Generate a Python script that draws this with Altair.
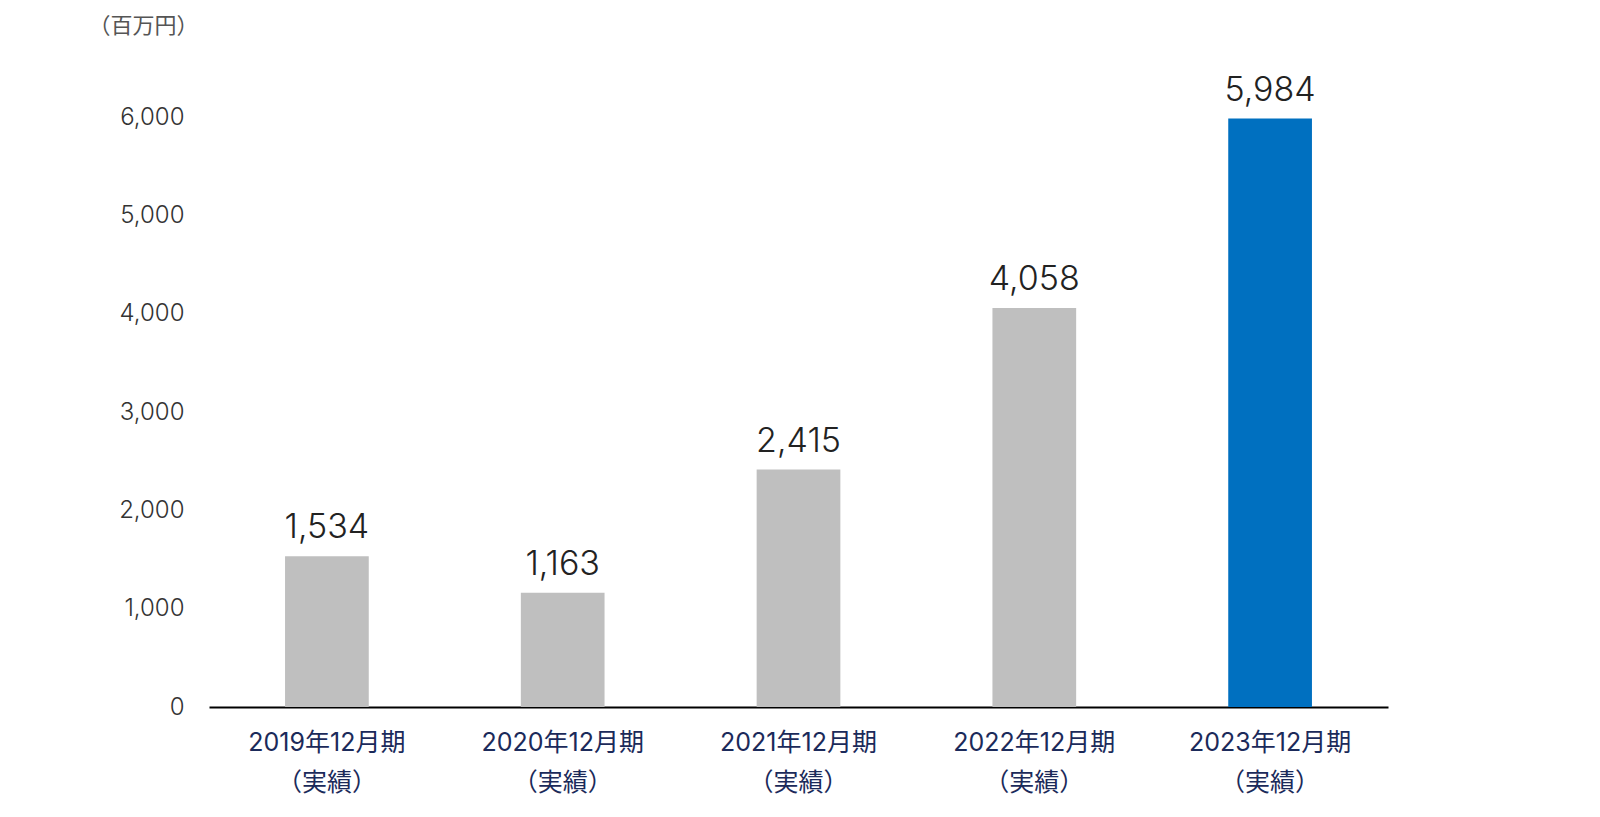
import altair as alt
import pandas as pd

categories = ["2019年12月期", "2020年12月期", "2021年12月期", "2022年12月期", "2023年12月期"]
values = [1534, 1163, 2415, 4058, 5984]
bar_colors = ["#bfbfbf", "#bfbfbf", "#bfbfbf", "#bfbfbf", "#0070c0"]
y_ticks = [0, 1000, 2000, 3000, 4000, 5000, 6000]

df = pd.DataFrame({"cat": categories, "value": values, "color": bar_colors})

FONT = "Inter, Noto Sans CJK JP"
CJK = "Noto Sans CJK JP"

x_enc = alt.X(
    "cat:N",
    sort=categories,
    scale=alt.Scale(paddingInner=0.645, paddingOuter=0.3225),
    axis=alt.Axis(
        title=None,
        labelAngle=0,
        labelExpr="[datum.label, '（実績）']",
        labelFontSize=25,
        labelColor="#1b2a5a",
        labelFont=FONT,
        labelPadding=23,
        labelLineHeight=40,
        ticks=False,
        domainColor="#000000",
        domainWidth=2,
    ),
)

y_enc = alt.Y(
    "value:Q",
    scale=alt.Scale(domain=[0, 6000], nice=False),
    axis=alt.Axis(
        values=y_ticks,
        format=",d",
        title="（百万円）",
        titleAngle=0,
        titleX=-66,
        titleY=-92,
        titleAlign="center",
        titleBaseline="middle",
        titleFontSize=22,
        titleFontWeight="normal",
        titleColor="#555555",
        titleFont=CJK,
        labelFontSize=24,
        labelFontWeight=300,
        labelColor="#333333",
        labelFont=FONT,
        labelPadding=25,
        ticks=False,
        domain=False,
        grid=False,
    ),
)

bars = alt.Chart(df).mark_bar().encode(
    x=x_enc,
    y=y_enc,
    color=alt.Color("color:N", scale=None),
)

labels = alt.Chart(df).mark_text(
    baseline="bottom", dy=-11, fontSize=34, fontWeight=300, font=FONT, color="#222222"
).encode(
    x=alt.X("cat:N", sort=categories),
    y=alt.Y("value:Q"),
    text=alt.Text("value:Q", format=",d"),
)

chart = (
    alt.layer(bars, labels)
    .properties(
        width=1179,
        height=590,
        autosize=alt.AutoSizeParams(type="none"),
        padding={"left": 201, "top": 109, "right": 150, "bottom": 100},
    )
    .configure_view(stroke=None)
)

chart.save("out.html", embed_options={"renderer": "svg", "actions": False})
